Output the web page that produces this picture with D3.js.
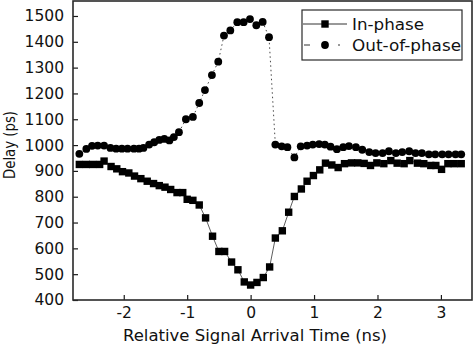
<!DOCTYPE html>
<html>
<head>
<meta charset="utf-8">
<script src="https://cdn.jsdelivr.net/npm/d3@7"></script>
<style>
  html, body { margin: 0; padding: 0; background: #fff; }
  svg { display: block; }
  text { font-family: "DejaVu Sans", sans-serif; fill: #111; }
</style>
</head>
<body>
<svg id="chart" width="474" height="345"></svg>
<script>
// ---- data ----
const inPhaseX = [-2.70,-2.59,-2.49,-2.38,-2.31,-2.20,-2.11,-2.02,-1.92,-1.83,-1.73,-1.63,-1.53,-1.44,-1.35,-1.26,-1.16,-1.07,-1.00,-0.91,-0.81,-0.71,-0.60,-0.50,-0.41,-0.30,-0.20,-0.10,0.00,0.10,0.20,0.30,0.39,0.50,0.60,0.69,0.80,0.89,0.99,1.09,1.18,1.28,1.38,1.48,1.59,1.69,1.79,1.89,1.99,2.10,2.21,2.31,2.42,2.51,2.63,2.73,2.84,2.92,3.01,3.11,3.21,3.32];
const inPhaseY = [925,925,925,925,938,917,908,897,892,880,870,860,851,843,837,828,816,816,790,786,768,718,647,588,588,547,517,470,458,468,487,528,640,668,740,801,830,860,882,904,930,923,913,928,931,931,929,921,931,928,940,930,928,940,930,928,921,921,906,928,928,928];

const outPhaseX = [-2.70,-2.59,-2.50,-2.41,-2.31,-2.21,-2.12,-2.03,-1.94,-1.84,-1.76,-1.69,-1.60,-1.52,-1.44,-1.36,-1.28,-1.21,-1.13,-1.02,-0.91,-0.81,-0.72,-0.61,-0.51,-0.42,-0.32,-0.21,-0.11,-0.01,0.09,0.19,0.29,0.39,0.49,0.58,0.69,0.79,0.89,0.98,1.08,1.17,1.26,1.36,1.46,1.55,1.66,1.76,1.87,1.97,2.08,2.18,2.29,2.39,2.50,2.60,2.70,2.81,2.91,3.02,3.12,3.23,3.32];
const outPhaseY = [966,985,997,998,998,989,986,986,986,986,986,989,1002,1011,1020,1024,1018,1031,1050,1100,1109,1163,1213,1271,1323,1424,1444,1476,1476,1488,1464,1477,1418,1002,995,992,952,995,998,1002,1004,1002,994,984,992,996,992,982,973,969,969,976,969,973,976,969,969,964,964,964,964,964,964];

const xTicks = [-2, -1, 0, 1, 2, 3];
const yTicks = [400, 500, 600, 700, 800, 900, 1000, 1100, 1200, 1300, 1400, 1500];
const seriesNames = ["In-phase", "Out-of-phase"];
const xTitle = "Relative Signal Arrival Time (ns)";
const yTitle = "Delay (ps)";

// ---- layout ----
const L = 73, R = 472, T = 1, B = 300;
const svg = d3.select("#chart");
const x = d3.scaleLinear().domain([-2.8, 3.49]).range([L, R]);
const y = d3.scaleLinear().domain([400, 1558]).range([B, T]);

const ink = "#1a1a1a";

// axes
const xAxis = d3.axisBottom(x).tickValues(xTicks).tickSize(-5).tickPadding(7)
  .tickFormat(d => d < 0 ? "-" + Math.abs(d) : String(d));
const gx = svg.append("g").attr("transform", `translate(0,${B})`).call(xAxis);
gx.select(".domain").remove();
gx.selectAll(".tick line").attr("stroke", ink).attr("stroke-width", 1.2);
gx.selectAll(".tick text").style("font-size", "15.5px").style("font-family", "DejaVu Sans").attr("fill", "#111");

const yAxis = d3.axisLeft(y).tickValues(yTicks).tickSize(-5).tickPadding(9).tickFormat(d3.format("d"));
const gy = svg.append("g").attr("transform", `translate(${L},0)`).call(yAxis);
gy.select(".domain").remove();
gy.selectAll(".tick line").attr("stroke", ink).attr("stroke-width", 1.2);
gy.selectAll(".tick text").style("font-size", "15.5px").style("font-family", "DejaVu Sans").attr("fill", "#111");

// frame
svg.append("rect").attr("x", L).attr("y", T).attr("width", R - L).attr("height", B - T)
  .attr("fill", "none").attr("stroke", "#2a2a2a").attr("stroke-width", 1.6);

// titles
svg.append("text").attr("x", 255).attr("y", 341).attr("text-anchor", "middle")
  .style("font-size", "16.5px").text(xTitle);
svg.append("text").attr("transform", "translate(15,145) rotate(-90)").attr("text-anchor", "middle")
  .attr("textLength", 68).attr("lengthAdjust", "spacingAndGlyphs")
  .style("font-size", "16px").text(yTitle);

// series
const inData = inPhaseX.map((v, i) => [v, inPhaseY[i]]);
const outData = outPhaseX.map((v, i) => [v, outPhaseY[i]]);
const line = d3.line().x(d => x(d[0])).y(d => y(d[1]));

svg.append("path").datum(inData).attr("d", line).attr("fill", "none")
  .attr("stroke", "#333").attr("stroke-width", 0.8);
svg.append("path").datum(outData).attr("d", line).attr("fill", "none")
  .attr("stroke", "#333").attr("stroke-width", 0.9).attr("stroke-dasharray", "1.5,3");

const sq = 7.4;
const cr = 3.9;
svg.append("g").selectAll("rect").data(inData).join("rect")
  .attr("x", d => x(d[0]) - sq / 2).attr("y", d => y(d[1]) - sq / 2)
  .attr("width", sq).attr("height", sq).attr("fill", "#000");
svg.append("g").selectAll("circle").data(outData).join("circle")
  .attr("cx", d => x(d[0])).attr("cy", d => y(d[1])).attr("r", cr).attr("fill", "#000");

// legend
const lg = svg.append("g");
lg.append("rect").attr("x", 302).attr("y", 10).attr("width", 160).attr("height", 50)
  .attr("fill", "#fff").attr("stroke", "#2a2a2a").attr("stroke-width", 1.2);
lg.append("line").attr("x1", 303).attr("x2", 347).attr("y1", 24).attr("y2", 24)
  .attr("stroke", "#333").attr("stroke-width", 1);
lg.append("rect").attr("x", 325 - sq / 2).attr("y", 24 - sq / 2).attr("width", sq).attr("height", sq).attr("fill", "#000");
lg.append("line").attr("x1", 304).attr("x2", 342).attr("y1", 45).attr("y2", 45)
  .attr("stroke", "#333").attr("stroke-width", 1).attr("stroke-dasharray", "6,28,2,10");
lg.append("circle").attr("cx", 325).attr("cy", 45).attr("r", cr).attr("fill", "#000");
lg.append("text").attr("x", 352).attr("y", 30).attr("textLength", 72).attr("lengthAdjust", "spacingAndGlyphs")
  .style("font-size", "16px").text(seriesNames[0]);
lg.append("text").attr("x", 352).attr("y", 51).attr("textLength", 109).attr("lengthAdjust", "spacingAndGlyphs")
  .style("font-size", "16px").text(seriesNames[1]);
</script>
</body>
</html>
